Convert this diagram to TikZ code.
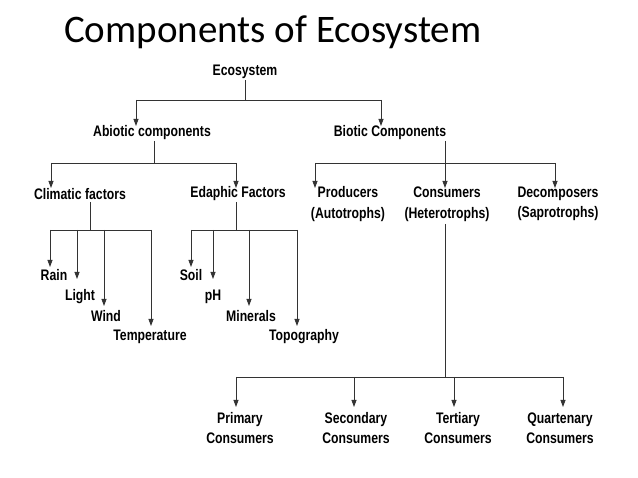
\documentclass[tikz,border=0pt]{standalone}
\usepackage{fontspec}
\setmainfont[FakeStretch=0.8]{Liberation Sans}
\newfontfamily\titlefont{Carlito}
\usetikzlibrary{arrows.meta}
\begin{document}
\begin{tikzpicture}[x=1pt,y=-1pt,
  lbl/.style={font=\bfseries\fontsize{15.3}{20.5}\selectfont, inner sep=0pt, align=center},
  ln/.style={draw=black!80, line width=0.8pt},
  arr/.style={ln, -{Triangle[width=5pt,length=7pt]}}]
\useasboundingbox (0,0) rectangle (638,478);
\node[anchor=west, font=\titlefont\fontsize{39}{42}\selectfont, inner sep=0pt] (title) at (64,32) {Components of Ecosystem};
\node[lbl] (eco) at (245,72) {Ecosystem};
\node[lbl] (abi) at (152,133) {Abiotic components};
\node[lbl] (bio) at (390,133) {Biotic Components};
\node[lbl] (cli) at (80,194) {Climatic factors};
\node[lbl] (eda) at (238,194) {Edaphic Factors};
\node[lbl] (pro) at (348,204) {Producers\\(Autotrophs)};
\node[lbl] (con) at (447,204) {Consumers\\(Heterotrophs)};
\node[lbl] (dec) at (558,204) {Decomposers\\(Saprotrophs)};
\node[lbl] (rain) at (54,275) {Rain};
\node[lbl] (light) at (80,297) {Light};
\node[lbl] (wind) at (106,316) {Wind};
\node[lbl] (temp) at (150,337) {Temperature};
\node[lbl] (soil) at (191,275) {Soil};
\node[lbl] (ph) at (213,297) {pH};
\node[lbl] (min) at (251,316) {Minerals};
\node[lbl] (topo) at (304,337) {Topography};
\node[lbl] (pc) at (240,428) {Primary\\Consumers};
\node[lbl] (sc) at (356,428) {Secondary\\Consumers};
\node[lbl] (tc) at (458,428) {Tertiary\\Consumers};
\node[lbl] (qc) at (560,428) {Quartenary\\Consumers};
% Ecosystem
\draw[ln] (245,80) -- (245,100);
\draw[ln] (136,100) -- (381,100);
\draw[arr] (136,100) -- (136,126);
\draw[arr] (381,100) -- (381,126);
% Abiotic
\draw[ln] (154,141) -- (154,163);
\draw[ln] (51,163) -- (236,163);
\draw[arr] (51,163) -- (51,188);
\draw[arr] (236,163) -- (236,188);
% Biotic
\draw[ln] (445,141) -- (445,163);
\draw[ln] (315,163) -- (555,163);
\foreach \x in {315,445,555} \draw[arr] (\x,163) -- (\x,188);
% Climatic
\draw[ln] (90,202) -- (90,230);
\draw[ln] (50,230) -- (151,230);
\draw[arr] (50,230) -- (50,267);
\draw[arr] (77,230) -- (77,279);
\draw[arr] (104,230) -- (104,306);
\draw[arr] (151,230) -- (151,326);
% Edaphic
\draw[ln] (236,202) -- (236,230);
\draw[ln] (191,230) -- (297,230);
\draw[arr] (191,230) -- (191,267);
\draw[arr] (213,230) -- (213,279);
\draw[arr] (249,230) -- (249,306);
\draw[arr] (297,230) -- (297,326);
% Consumers
\draw[ln] (445,224) -- (445,377);
\draw[ln] (236,377) -- (563,377);
\foreach \x in {236,354,454,563} \draw[arr] (\x,377) -- (\x,407);
\end{tikzpicture}
\end{document}
